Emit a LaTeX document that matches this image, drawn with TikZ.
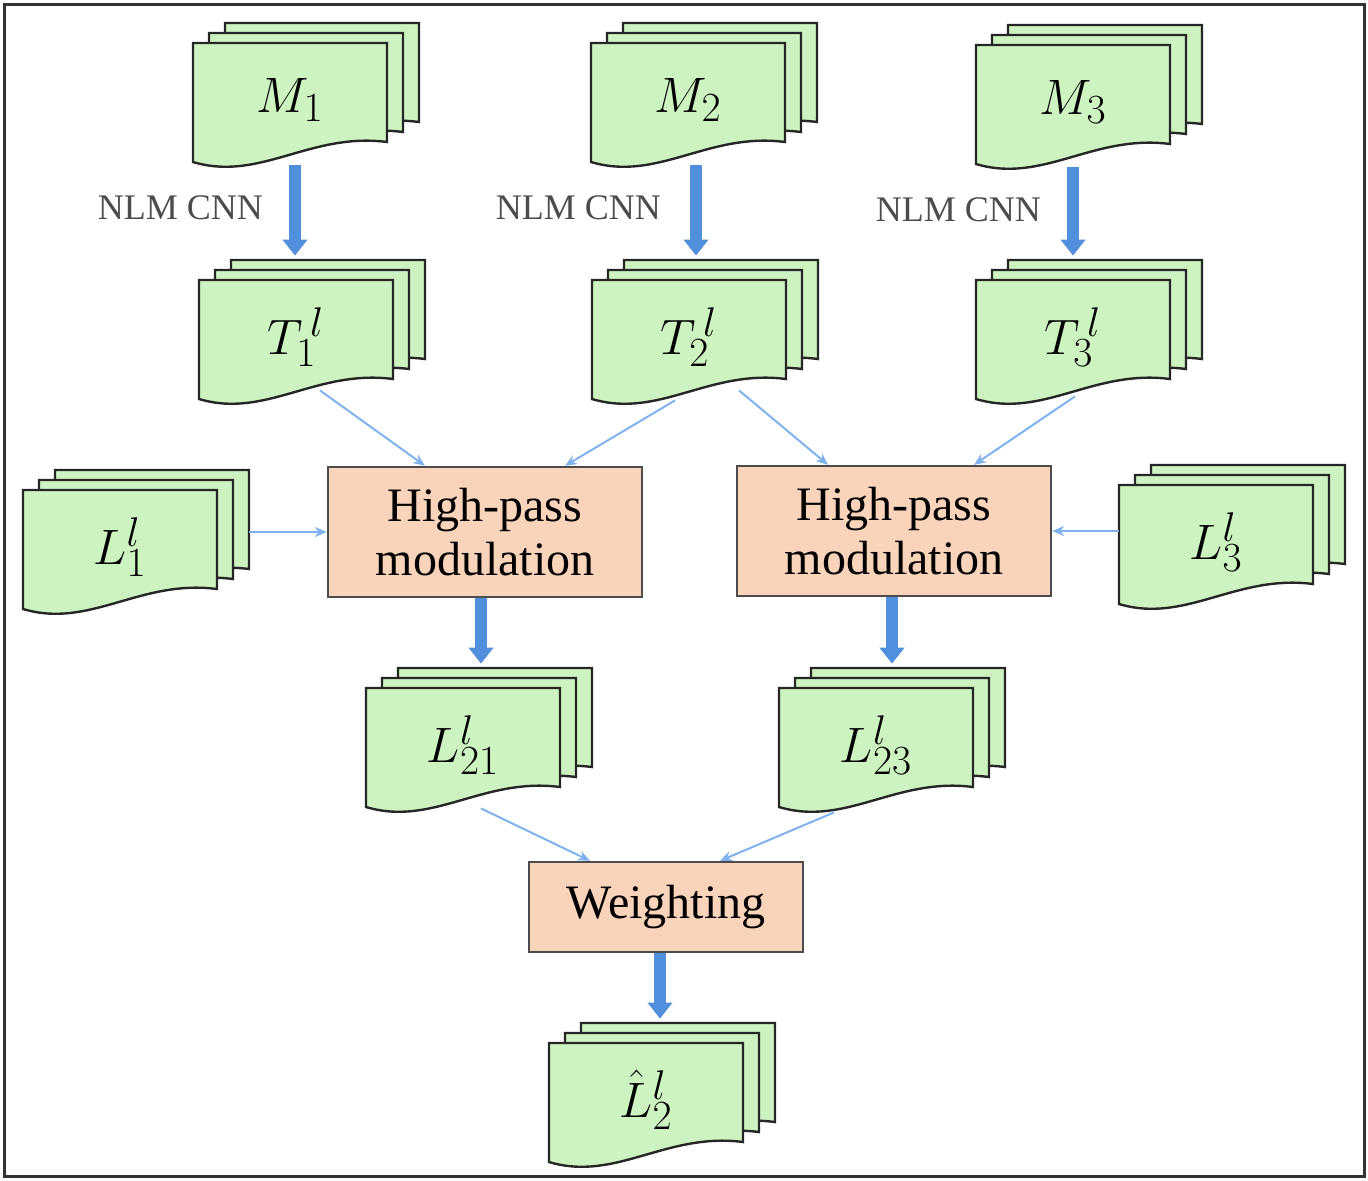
\documentclass[tikz,border=0pt]{standalone}
\usepackage{fontspec}
\setmainfont{Liberation Serif}
\usetikzlibrary{arrows.meta}
\definecolor{docg}{HTML}{CDF3C0}
\definecolor{boxo}{HTML}{F9D3BA}
\definecolor{thin}{HTML}{7FB2EE}
\definecolor{thick}{HTML}{4F8FDB}
\tikzset{
  doc/.style={draw=black!85,fill=docg,line width=1.2pt},
  box/.style={draw=black!70,fill=boxo,line width=1.2pt,minimum width=157pt,minimum height=65pt,align=center,font=\fontsize{24}{27}\selectfont},
  thinarr/.style={draw=thin,line width=1pt,-{Stealth[length=6pt,width=5pt]}},
  thickarr/.style={draw=thick,line width=6pt,-{Triangle[width=12pt,length=8pt]}},
  lab/.style={font=\fontsize{18}{18}\selectfont,text=black!70},
  dl/.style={font=\fontsize{30}{30}\selectfont}
}
\newcommand\mydoc[4]{%
  \foreach \k in {2,1,0}{%
    \draw[doc] ({#2-97+16*\k},{#3-57-10*\k}) -- ({#2+97+16*\k},{#3-57-10*\k}) -- ({#2+97+16*\k},{#3+42-10*\k})
      .. controls ({#2+20+16*\k},{#3+32-10*\k}) and ({#2-30+16*\k},{#3+82-10*\k}) .. ({#2-97+16*\k},{#3+62-10*\k}) -- cycle;}
  \node[dl,minimum width=97pt,minimum height=57pt] (#1) at (#2,#3) {#4};}
\begin{document}
\begin{tikzpicture}[x=0.5pt,y=-0.5pt]
\useasboundingbox (0,0) rectangle (1368,1180);
\draw[black!80,line width=1.5pt] (4,4) rectangle (1364,1176);
\mydoc{M1}{290}{100}{$M_1$}
\mydoc{M2}{688}{100}{$M_2$}
\mydoc{M3}{1073}{102}{$M_3$}
\mydoc{T1}{296}{337}{$T_1^{\,l}$}
\mydoc{T2}{689}{337}{$T_2^{\,l}$}
\mydoc{T3}{1073}{337}{$T_3^{\,l}$}
\mydoc{L1}{120}{547}{$L_1^{l}$}
\mydoc{L3}{1216}{542}{$L_3^{l}$}
\mydoc{L21}{463}{745}{$L_{21}^{l}$}
\mydoc{L23}{876}{745}{$L_{23}^{l}$}
\mydoc{L2h}{646}{1100}{$\hat{L}_2^{l}$}
\node[box] (HP1) at (485,532) {High-pass\\modulation};
\node[box] (HP2) at (894,531) {High-pass\\modulation};
\node[box,minimum width=137pt,minimum height=45pt] (W) at (666,907) {Weighting};
\draw[thickarr] ([xshift=2.5pt,yshift=-4pt]M1.south) -- ([xshift=-0.5pt,yshift=12pt]T1.north);
\draw[thickarr] ([xshift=4pt,yshift=-4pt]M2.south) -- ([xshift=3.5pt,yshift=12pt]T2.north);
\draw[thickarr] ([yshift=-4pt]M3.south) -- ([yshift=12pt]T3.north);
\node[lab,anchor=east] (n1) at (270,208) {NLM CNN};
\node[lab,anchor=east] (n2) at (668,208) {NLM CNN};
\node[lab,anchor=east] (n3) at (1048,210) {NLM CNN};
\draw[thickarr] ([xshift=-2pt]HP1.south) -- ([xshift=9pt,yshift=12pt]L21.north);
\draw[thickarr] ([xshift=-1pt]HP2.south) -- ([xshift=8pt,yshift=12pt]L23.north);
\draw[thickarr] ([xshift=-3pt]W.south) -- ([xshift=7pt,yshift=12pt]L2h.north);
\draw[thinarr] ([xshift=12pt,yshift=2pt]T1.south) -- ([xshift=-30pt]HP1.north);
\draw[thinarr] ([xshift=-7pt,yshift=-3pt]T2.south) -- ([xshift=40pt]HP1.north);
\draw[thinarr] ([xshift=25pt,yshift=2pt]T2.south) -- ([xshift=-33pt]HP2.north);
\draw[thinarr] ([xshift=1pt,yshift=-1pt]T3.south) -- ([xshift=40pt]HP2.north);
\draw[thinarr] ([xshift=16pt,yshift=7.5pt]L1.east) -- (HP1.west);
\draw[thinarr] ([yshift=5.5pt]L3.west) -- (HP2.east);
\draw[thinarr] ([xshift=9pt,yshift=-3pt]L21.south) -- ([xshift=-38pt]W.north);
\draw[thinarr] ([xshift=-21pt,yshift=-5pt]L23.south) -- ([xshift=27pt]W.north);
\end{tikzpicture}
\end{document}
